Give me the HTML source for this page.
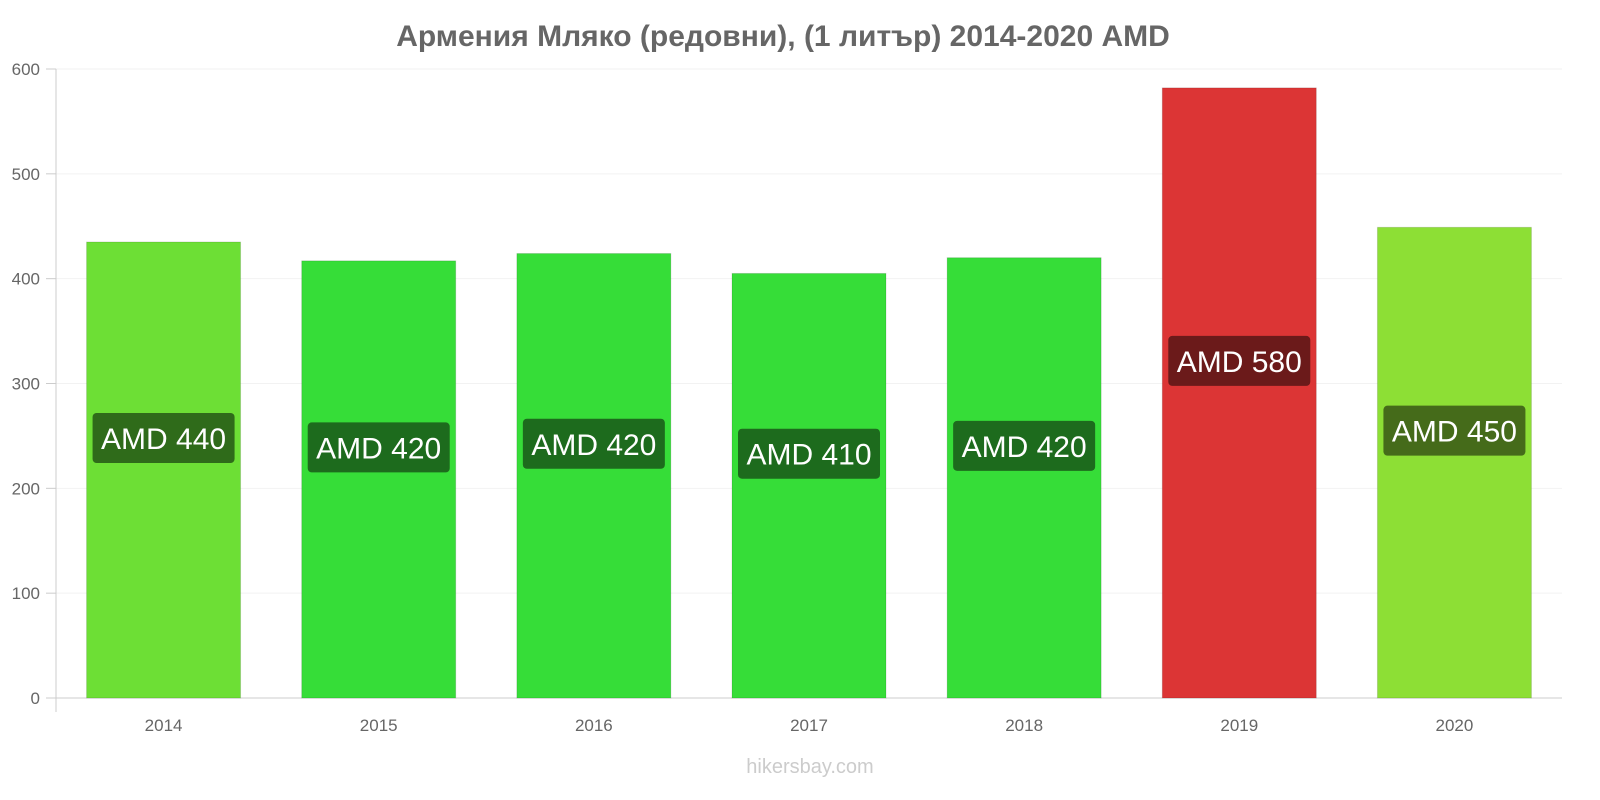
<!DOCTYPE html>
<html><head><meta charset="utf-8"><style>
html,body{margin:0;padding:0;background:#fff;font-family:"Liberation Sans",sans-serif;overflow:hidden;width:1600px;height:800px}
svg{display:block}
</style></head><body>
<svg width="1600" height="800" xmlns="http://www.w3.org/2000/svg">
<text x="783" y="46" text-anchor="middle" font-size="30" font-weight="bold" fill="#666" font-family="Liberation Sans, sans-serif">Армения Мляко (редовни), (1 литър) 2014-2020 AMD</text>
<g id="grid"></g><g id="bars"></g>
<text x="810" y="773" text-anchor="middle" font-size="20" fill="#ccc" font-family="Liberation Sans, sans-serif">hikersbay.com</text>
</svg>
<script>
const categories=["2014","2015","2016","2017","2018","2019","2020"];
const values=[435,417,424,405,420,582,449];
const labels=["AMD 440","AMD 420","AMD 420","AMD 410","AMD 420","AMD 580","AMD 450"];
const ticks=[0,100,200,300,400,500,600];
const fills=["#6ddf35","#36dd38","#36dd38","#36dd38","#36dd38","#dc3535","#8ddf35"];
const labelFills=["#2f6b1a","#1d6b1d","#1d6b1d","#1d6b1d","#1d6b1d","#6b1a1a","#456b1a"];
const NS="http://www.w3.org/2000/svg";
const x0=56,x1=1562,y0=698,ytop=69;
const bw=(x1-x0)/categories.length;
const y=v=>y0-(v/600)*(y0-ytop);
const xc=i=>x0+bw*(i+0.5);
function mk(t,a,p){const e=document.createElementNS(NS,t);for(const k in a)e.setAttribute(k,a[k]);p.appendChild(e);return e;}
const g=document.getElementById('grid'),b=document.getElementById('bars');
ticks.forEach(t=>{
 if(t>0){const l=mk('line',{x1:x0,x2:x1,y1:y(t),y2:y(t),stroke:'#f2f2f2'},g);
 
 }
 const tx=mk('text',{x:40,y:y(t)+6,'text-anchor':'end','font-size':17,fill:'#666','font-family':'Liberation Sans, sans-serif'},g);
 tx.textContent=t;
 
 
 const tk=mk('line',{x1:46,x2:56,y1:y(t),y2:y(t),stroke:'#ccc'},g);
 
 
});
const ya=mk('line',{x1:56,x2:56,y1:69,y2:712,stroke:'#ccc'},g);


const xa=mk('line',{x1:46,x2:x1,y1:y0,y2:y0,stroke:'#ccc'},g);


categories.forEach((c,i)=>{
 const w=154,cx=xc(i),top=y(values[i]);
 const r=mk('rect',{x:cx-w/2,y:top,width:w,height:y0-top,fill:fills[i],stroke:'rgba(0,0,0,0.12)'},b);
 
 
 const ly=(top+y0)/2-32;
 const lw=142;
 const lr=mk('rect',{x:cx-lw/2,y:ly-25,width:lw,height:50,rx:4,fill:labelFills[i]},b);
 
 
 const lt=mk('text',{x:cx,y:ly+11,'text-anchor':'middle','font-size':30,fill:'#fff','font-family':'Liberation Sans, sans-serif'},b);
 lt.textContent=labels[i];
 
 
 const xt=mk('text',{x:cx,y:731,'text-anchor':'middle','font-size':17,fill:'#666','font-family':'Liberation Sans, sans-serif'},b);
 xt.textContent=c;
 
 
});
</script>
</body></html>
